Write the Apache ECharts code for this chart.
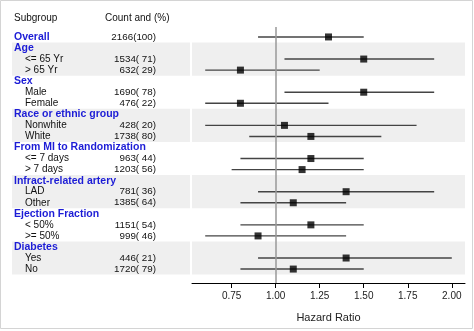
<!DOCTYPE html>
<html><head><meta charset="utf-8">
<script src="https://cdn.jsdelivr.net/npm/echarts@6/dist/echarts.min.js"></script>
<style>html,body{margin:0;padding:0;background:#fff}#c{width:474px;height:331px}</style>
</head><body><div id="c"></div>
<script>
const rowLabels = ['Overall','Age','<= 65 Yr','> 65 Yr','Sex','Male','Female','Race or ethnic group','Nonwhite','White','From MI to Randomization','<= 7 days','> 7 days','Infract-related artery','LAD','Other','Ejection Fraction','< 50%','>= 50%','Diabetes','Yes','No'];
const isGroupRow = [1,1,0,0,1,0,0,1,0,0,1,0,0,1,0,0,1,0,0,1,0,0];
const counts = ['2166(100)','','1534( 71)','632( 29)','','1690( 78)','476( 22)','','428( 20)','1738( 80)','','963( 44)','1203( 56)','','781( 36)','1385( 64)','','1151( 54)','999( 46)','','446( 21)','1720( 79)'];
const hazard  = [1.3,null,1.5,0.8,null,1.5,0.8,null,1.05,1.2,null,1.2,1.15,null,1.4,1.1,null,1.2,0.9,null,1.4,1.1];
const lowerCI = [0.9,null,1.05,0.6,null,1.05,0.6,null,0.6,0.85,null,0.8,0.75,null,0.9,0.8,null,0.8,0.6,null,0.9,0.8];
const upperCI = [1.5,null,1.9,1.25,null,1.9,1.3,null,1.8,1.6,null,1.5,1.5,null,1.9,1.4,null,1.5,1.4,null,2.0,1.5];
const shadedBands = [[1,3],[7,9],[13,15],[19,21]];
const tickValues = [0.75,1.0,1.25,1.5,1.75,2.0];
const headers = ['Subgroup','Count and (%)'];
const axisTitle = 'Hazard Ratio';

const FONT = '"Liberation Sans", Arial, sans-serif';
const chart = echarts.init(document.getElementById('c'), null, {renderer:'canvas'});

const barData = [], pointData = [];
hazard.forEach((h,i)=>{ if(h!=null){ barData.push([lowerCI[i], upperCI[i], i]); pointData.push([h, i]); } });

chart.setOption({
  animation:false,
  backgroundColor:'#fff',
  grid:{left:192, right:9, top:27, bottom:48},
  xAxis:{type:'value', min:0.525, max:2.075,
    axisLine:{show:true, onZero:false, lineStyle:{color:'#000', width:1}},
    axisTick:{show:true, customValues:tickValues, length:5, lineStyle:{color:'#000'}},
    axisLabel:{customValues:tickValues, formatter:v=>v.toFixed(2), color:'#222', fontFamily:FONT, fontSize:10, margin:8},
    splitLine:{show:false},
    name:axisTitle, nameLocation:'middle', nameGap:29,
    nameTextStyle:{color:'#222', fontFamily:FONT, fontSize:11}},
  yAxis:{type:'value', inverse:true, min:-0.9, max:22.26, show:false},
  graphic:[
    {type:'rect', shape:{x:0.5,y:0.5,width:472,height:328}, style:{fill:null, stroke:'#d4d4d4', lineWidth:1}, z:-1},
    {type:'text', x:14, y:18, style:{text:headers[0], fill:'#111', font:'10px '+FONT, verticalAlign:'middle'}},
    {type:'text', x:105, y:18, style:{text:headers[1], fill:'#111', font:'10px '+FONT, verticalAlign:'middle'}}
  ],
  series:[
    {type:'custom', clip:false, z:0, silent:true,
      data:shadedBands,
      renderItem:(params, api)=>{
        const y0 = api.coord([1, api.value(0)-0.5])[1];
        const y1 = api.coord([1, api.value(1)+0.5])[1];
        const cs = params.coordSys;
        return {type:'group', children:[
          {type:'rect', shape:{x:12, y:y0, width:178, height:y1-y0}, style:{fill:'#efefef'}},
          {type:'rect', shape:{x:cs.x, y:y0, width:cs.width, height:y1-y0}, style:{fill:'#efefef'}}
        ]};
      }},
    {type:'custom', clip:false, z:5, silent:true,
      data:rowLabels.map((l,i)=>[1,i]),
      renderItem:(params, api)=>{
        const i = params.dataIndex;
        const y = api.coord([1, i])[1];
        const g = isGroupRow[i] || i===0;
        const kids = [{type:'text', x: g?14:25, y:y, style:{text:rowLabels[i], fill: g?'#1c1cd6':'#111',
            font:(g?'bold 10.5px ':'10px ')+FONT, verticalAlign:'middle'}}];
        if(counts[i]) kids.push({type:'text', x:156, y:y, style:{text:counts[i], fill:'#111', font:'9.8px '+FONT, align:'right', verticalAlign:'middle'}});
        return {type:'group', children:kids};
      }},
    {type:'custom', z:2, silent:true,
      data:barData,
      renderItem:(params, api)=>{
        const a = api.coord([api.value(0), api.value(2)]);
        const b = api.coord([api.value(1), api.value(2)]);
        return {type:'line', shape:{x1:a[0], y1:a[1], x2:b[0], y2:b[1]}, style:{stroke:'#444', lineWidth:1.4}};
      }},
    {type:'scatter', z:4, symbol:'rect', symbolSize:7, itemStyle:{color:'#000'},
      data:pointData,
      markLine:{silent:true, symbol:'none', label:{show:false}, lineStyle:{color:'#999', width:1.5, type:'solid'},
        data:[{xAxis:1}]}}
  ]
});
</script></body></html>
